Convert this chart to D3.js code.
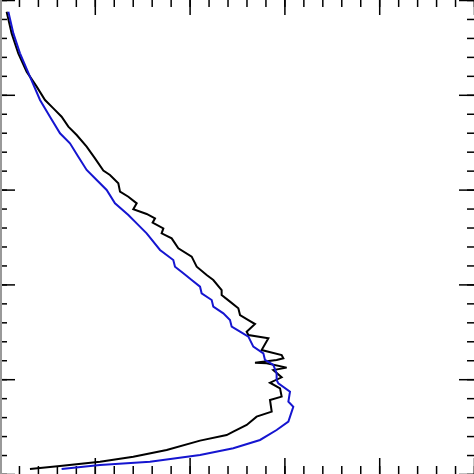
<!DOCTYPE html>
<html><head><meta charset="utf-8">
<script src="https://cdn.jsdelivr.net/npm/d3@7"></script>
<style>body{margin:0;background:#fff}</style>
</head><body>
<svg width="474" height="474"></svg>
<script>
var svg = d3.select('svg');

var blackX = [.070,.123,.193,.281,.387,.475,.563,.650,.721,.809,.914,1.002,1.090,1.160,1.248,1.266,1.354,1.442,1.406,1.547,1.635,1.610,1.723,1.705,1.811,1.881,2.022,2.075,2.180,2.250,2.338,2.338,2.426,2.514,2.532,2.620,2.690,2.602,2.620,2.831,2.760,2.971,2.989,2.918,2.690,2.813,3.024,2.883,2.971,2.848,2.954,2.971,2.848,2.866,2.707,2.602,2.461,2.391,2.110,1.758,1.406,1.055,.633,.316];
var blackY = [.123,.352,.563,.756,.914,1.055,1.143,1.231,1.336,1.424,1.547,1.670,1.800,1.846,1.934,2.022,2.075,2.145,2.208,2.257,2.303,2.349,2.409,2.461,2.514,2.620,2.707,2.813,2.901,2.954,3.059,3.112,3.182,3.252,3.323,3.376,3.418,3.499,3.534,3.569,3.692,3.745,3.780,3.797,3.826,3.833,3.878,3.903,3.980,4.037,4.096,4.184,4.219,4.342,4.395,4.483,4.553,4.589,4.648,4.747,4.817,4.870,4.916,4.947];
var blueX = [.088,.141,.211,.316,.422,.527,.633,.738,.826,.914,1.020,1.125,1.213,1.354,1.442,1.547,1.688,1.828,1.846,1.934,2.022,2.110,2.127,2.233,2.250,2.356,2.426,2.444,2.532,2.620,2.672,2.778,2.795,2.883,2.918,2.918,2.936,3.059,3.042,3.094,3.042,2.918,2.743,2.461,2.110,1.582,1.055,.650];
var blueY = [.123,.352,.563,.809,1.055,1.231,1.406,1.512,1.653,1.793,1.899,2.004,2.145,2.268,2.356,2.461,2.637,2.743,2.813,2.883,2.954,3.024,3.094,3.165,3.235,3.305,3.376,3.446,3.499,3.551,3.657,3.727,3.797,3.850,3.938,4.008,4.044,4.132,4.237,4.290,4.448,4.536,4.641,4.729,4.800,4.870,4.905,4.947];

var majorTicks = [0,1,2,3,4,5];
var minorTicks = d3.range(0, 26).map(function(i){ return i/5; });

var x = d3.scaleLinear().domain([0,5]).range([0,474]);
var y = d3.scaleLinear().domain([0,5]).range([0,474]);

function ticks(axisFn, scale, vals, size, tr){
    svg.append('g').attr('transform', tr)
        .call(axisFn(scale).tickValues(vals).tickSize(size).tickFormat(''))
        .call(function(g){ g.select('.domain').remove(); })
        .selectAll('line').attr('stroke','#000').attr('stroke-width',1.5);
}
ticks(d3.axisTop, x, minorTicks, 8, 'translate(0,474)');
ticks(d3.axisTop, x, majorTicks, 16, 'translate(0,474)');
ticks(d3.axisBottom, x, minorTicks, 7, 'translate(0,0)');
ticks(d3.axisBottom, x, majorTicks, 15, 'translate(0,0)');
ticks(d3.axisRight, y, minorTicks, 7, 'translate(0,0)');
ticks(d3.axisRight, y, majorTicks, 15, 'translate(0,0)');
ticks(d3.axisLeft, y, minorTicks, 7, 'translate(474,0)');
ticks(d3.axisLeft, y, majorTicks, 15, 'translate(474,0)');

svg.append('line').attr('x1',1).attr('x2',1).attr('y1',0).attr('y2',474)
    .attr('stroke','#999').attr('stroke-width',2);

var line = d3.line().x(function(d){ return x(d[0]); }).y(function(d){ return y(d[1]); });

svg.append('path').datum(d3.zip(blackX, blackY))
    .attr('d', line).attr('fill','none').attr('stroke','#000').attr('stroke-width',2);
svg.append('path').datum(d3.zip(blueX, blueY))
    .attr('d', line).attr('fill','none').attr('stroke','#1515d0').attr('stroke-width',2);
</script>
</body></html>
